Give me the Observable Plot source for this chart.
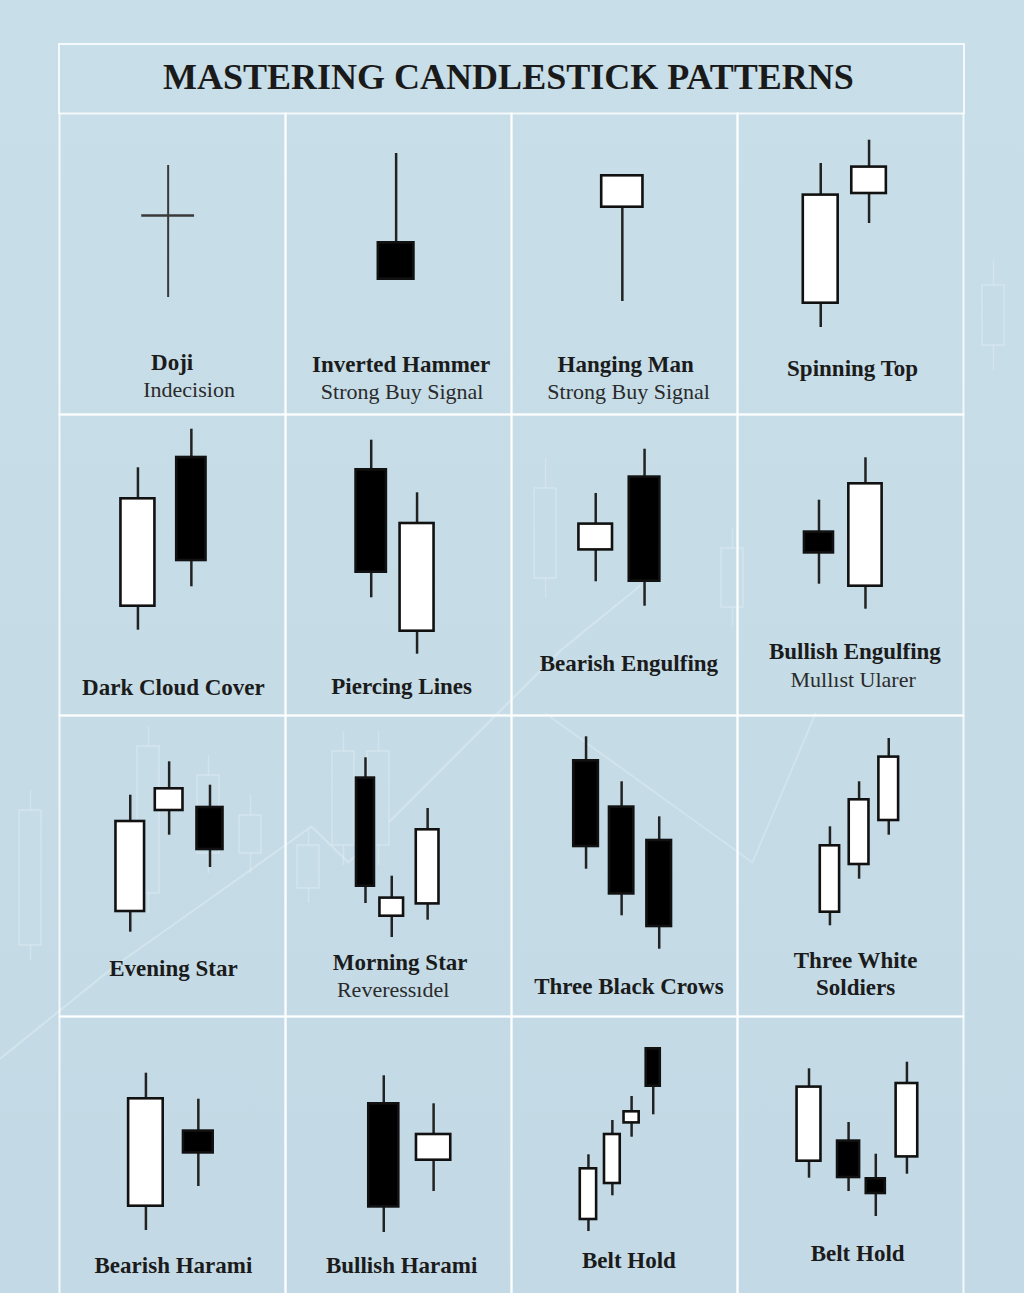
<!DOCTYPE html>
<html>
<head>
<meta charset="utf-8">
<script src="https://cdn.jsdelivr.net/npm/d3@7"></script>
<script src="https://cdn.jsdelivr.net/npm/@observablehq/plot@0.6"></script>
<style>
  html, body { margin: 0; padding: 0; background: #c5dce7; }
  #page { position: relative; width: 1024px; height: 1293px; overflow: hidden;
          background: linear-gradient(#c8dee8, #c3dae6); }
  #bg { position: absolute; left: 0; top: 0; }
  #title { position: absolute; left: 58px; top: 43px; width: 907px; height: 71px; box-sizing: border-box;
           border: 2px solid rgba(255,255,255,0.8); border-bottom: none;
           display: flex; align-items: center; justify-content: center; padding-bottom: 6px; padding-right: 6px;
           font: bold 36px "Liberation Serif", "Times New Roman", serif; color: #1a1a1a; }
  #chart { position: absolute; left: -1px; top: 113px; }
</style>
</head>
<body>
<div id="page">
  <div id="bg"></div>
  <div id="title">MASTERING CANDLESTICK PATTERNS</div>
  <div id="chart"></div>
</div>
<script>
// ---- Data (one entry per pattern, read left-to-right, top-to-bottom) ----
const patternNames = [
  "Doji", "Inverted Hammer", "Hanging Man", "Spinning Top",
  "Dark Cloud Cover", "Piercing Lines", "Bearish Engulfing", "Bullish Engulfing",
  "Evening Star", "Morning Star", "Three Black Crows", "Three White\nSoldiers",
  "Bearish Harami", "Bullish Harami", "Belt Hold", "Belt Hold"
];
const subtitles = [
  "Indecision", "Strong Buy Signal", "Strong Buy Signal", "",
  "", "", "", "Mullıst Ularer",
  "", "Reveressıdel", "", "",
  "", "", "", ""
];
// candle "time" positions within each pattern panel
const times = [
  [109], [111], [111.2], [83.5, 132],
  [78.7, 132.3], [86, 132], [84.5, 133.5], [81.75, 128.4],
  [71, 110, 151], [80.25, 106.6, 142.6], [74.8, 110.5, 148.2], [92.75, 122, 151.75],
  [86.7, 139.3], [98.6, 148.6], [77.2, 101.2, 120.5, 142.2], [71.75, 111.45, 138.75, 170]
];
const opens = [
  [199], [173], [206], [110, 219.7],
  [108, 259.3], [247, 83], [164.3, 239.7], [184.7, 128],
  [103.7, 204.7, 210.3], [239.7, 99, 111.3], [257, 210.7, 177.3], [103, 150.7, 194.7],
  [110, 187.7], [215, 156], [96.7, 132.7, 193.3, 270], [155, 177.7, 140, 159.3]
];
const highs = [
  [249], [261], [240], [251, 274.3],
  [247.7, 286.3], [275.3, 222.7], [222, 266.3], [215.3, 257.7],
  [221.3, 254.7, 231.3], [258.7, 140.3, 208], [279.7, 234.7, 199.7], [189.7, 234.7, 278],
  [244.3, 218.3], [241.7, 213.7], [162.7, 197, 221, 270], [248.7, 195, 163.3, 255.3]
];
const lows = [
  [117], [134], [113], [87, 191],
  [85.3, 128.7], [117.7, 61.3], [133.7, 109.3], [131.3, 106.3],
  [84.3, 181.3, 149], [113, 79, 96.3], [147.3, 100.7, 67.3], [90.7, 137.3, 181.3],
  [87, 131], [85, 126], [86, 121.7, 180.3, 202.7], [139.3, 126, 101, 143.3]
];
const closes = [
  [199], [134], [240], [220.7, 248.7],
  [218, 153.7], [142, 193.3], [192.7, 133], [161.3, 233],
  [196.3, 229, 165.7], [129, 119.7, 188], [168.7, 121.3, 88.7], [172, 218, 260.7],
  [220, 163.3], [109.3, 184.3], [150, 184.3, 207, 230], [231.7, 138.7, 122.7, 235.3]
];
const bodyWidths = [
  [53], [38.3], [44], [37.6, 37.3],
  [36.7, 32], [33, 36.7], [36.3, 33.3], [31.7, 36],
  [31.3, 30.4, 28.7], [20.6, 26.3, 25.4], [27.3, 27, 27.3], [22, 22.4, 22.4],
  [37.3, 32.4], [32.7, 37], [19, 18.4, 17.8, 16.7], [26.6, 24.7, 21.7, 24.3]
];
// label anchors (in each panel's time/price units)
const titleX = [113, 116, 114.5, 115.5, 114.3, 116.5, 117.8, 117.75, 114.3, 115, 117.8, 118.5, 114.3, 116.5, 117.8, 120.5];
const titleY = [53, 51, 51, 47, 29, 30.3, 52.7, 64.7, 49, 54.7, 31.3, 43.7, 52.7, 53, 57.7, 65];
const subX   = [130, 117, 117.5, 0, 0, 0, 0, 116, 0, 108, 0, 0, 0, 0, 0, 0];
const subY   = [24.3, 23, 23, 0, 0, 0, 0, 35.3, 0, 26.3, 0, 0, 0, 0, 0, 0];

// faint decorative background chart (time / price over the whole page)
const bgLineTime  = [0, 115, 200, 311, 348, 468, 560, 640];
const bgLinePrice = [235, 328, 388, 467, 431, 551, 643, 708];
const bgVTime  = [545, 752, 815];
const bgVPrice = [580, 431, 580];
const bgCandleTime  = [30, 148, 208, 250, 308, 343, 378, 545, 732, 993];
const bgCandleOpen  = [348, 400, 440, 440, 405, 448, 448, 715, 686, 948];
const bgCandleClose = [483, 547, 518, 478, 448, 542, 542, 805, 745, 1008];
const bgCandleHigh  = [503, 567, 538, 498, 463, 562, 562, 835, 765, 1033];
const bgCandleLow   = [333, 380, 420, 420, 390, 428, 428, 695, 666, 923];

// ---- Tables built from the arrays ----
const candles = [];
patternNames.forEach((name, i) => {
  times[i].forEach((t, j) => {
    candles.push({
      pattern: name, col: i % 4, row: Math.floor(i / 4),
      t, open: opens[i][j], high: highs[i][j], low: lows[i][j], close: closes[i][j],
      w: bodyWidths[i][j]
    });
  });
});
const titles = patternNames.map((name, i) => ({text: name, col: i % 4, row: Math.floor(i / 4), x: titleX[i], y: titleY[i]}));
const subs = subtitles.map((text, i) => ({text, col: i % 4, row: Math.floor(i / 4), x: subX[i], y: subY[i]}))
  .filter(d => d.text);

const bodies = candles.filter(d => d.open !== d.close);
const dojis = candles.filter(d => d.open === d.close);

const bgLine = bgLineTime.map((t, i) => ({t, p: bgLinePrice[i]}));
const bgV = bgVTime.map((t, i) => ({t, p: bgVPrice[i]}));
const bgCandles = bgCandleTime.map((t, i) => ({t, open: bgCandleOpen[i], close: bgCandleClose[i], high: bgCandleHigh[i], low: bgCandleLow[i]}));

const bg = Plot.plot({
  width: 1024, height: 1293,
  margin: 0,
  x: {domain: [0, 1024], axis: null},
  y: {domain: [0, 1293], axis: null},
  style: {background: "transparent"},
  marks: [
    Plot.line(bgLine, {x: "t", y: "p", stroke: "white", strokeOpacity: 0.25, strokeWidth: 2}),
    Plot.line(bgV, {x: "t", y: "p", stroke: "white", strokeOpacity: 0.22, strokeWidth: 2}),
    Plot.ruleX(bgCandles, {x: "t", y1: "low", y2: "high", stroke: "white", strokeOpacity: 0.22, strokeWidth: 1.5}),
    Plot.rect(bgCandles, {x1: d => d.t - 11, x2: d => d.t + 11, y1: "open", y2: "close",
      fill: "#c6dce7", stroke: "white", strokeOpacity: 0.25, strokeWidth: 1.5})
  ]
});
document.getElementById("bg").appendChild(bg);

const chart = Plot.plot({
  width: 1024,
  height: 1204,
  marginLeft: 58, marginRight: 59, marginTop: 0, marginBottom: 0,
  fx: {domain: [0, 1, 2, 3], padding: 0, axis: null},
  fy: {domain: [0, 1, 2, 3], padding: 0, axis: null},
  x: {domain: [0, 226.75], axis: null},
  y: {domain: [0, 301], axis: null},
  style: {background: "transparent", overflow: "visible", fontFamily: "'Liberation Serif', serif"},
  marks: [
    Plot.frame({stroke: "white", strokeOpacity: 0.8, strokeWidth: 2}),
    Plot.ruleX(bodies, {fx: "col", fy: "row", x: "t", y1: "low", y2: "high", stroke: "#222", strokeWidth: 2.5}),
    Plot.ruleX(dojis, {fx: "col", fy: "row", x: "t", y1: "low", y2: "high", stroke: "#3a3a3a", strokeWidth: 2}),
    Plot.ruleY(dojis, {fx: "col", fy: "row", y: "open", x1: d => d.t - d.w / 2, x2: d => d.t + d.w / 2, stroke: "#3a3a3a", strokeWidth: 2.5}),
    Plot.rect(bodies, {
      fx: "col", fy: "row",
      x1: d => d.t - d.w / 2, x2: d => d.t + d.w / 2,
      y1: "open", y2: "close",
      fill: d => d.close > d.open ? "white" : "black",
      stroke: "#111", strokeWidth: 2.6, inset: 1.3
    }),
    Plot.text(titles, {fx: "col", fy: "row", x: "x", y: "y", text: "text",
      fontSize: 23, fontWeight: "bold", fill: "#1b1b1b", lineHeight: 1.16}),
    Plot.text(subs, {fx: "col", fy: "row", x: "x", y: "y", text: "text",
      fontSize: 22, fill: "#2a2a2a"})
  ]
});
document.getElementById("chart").appendChild(chart);
</script>
</body>
</html>
